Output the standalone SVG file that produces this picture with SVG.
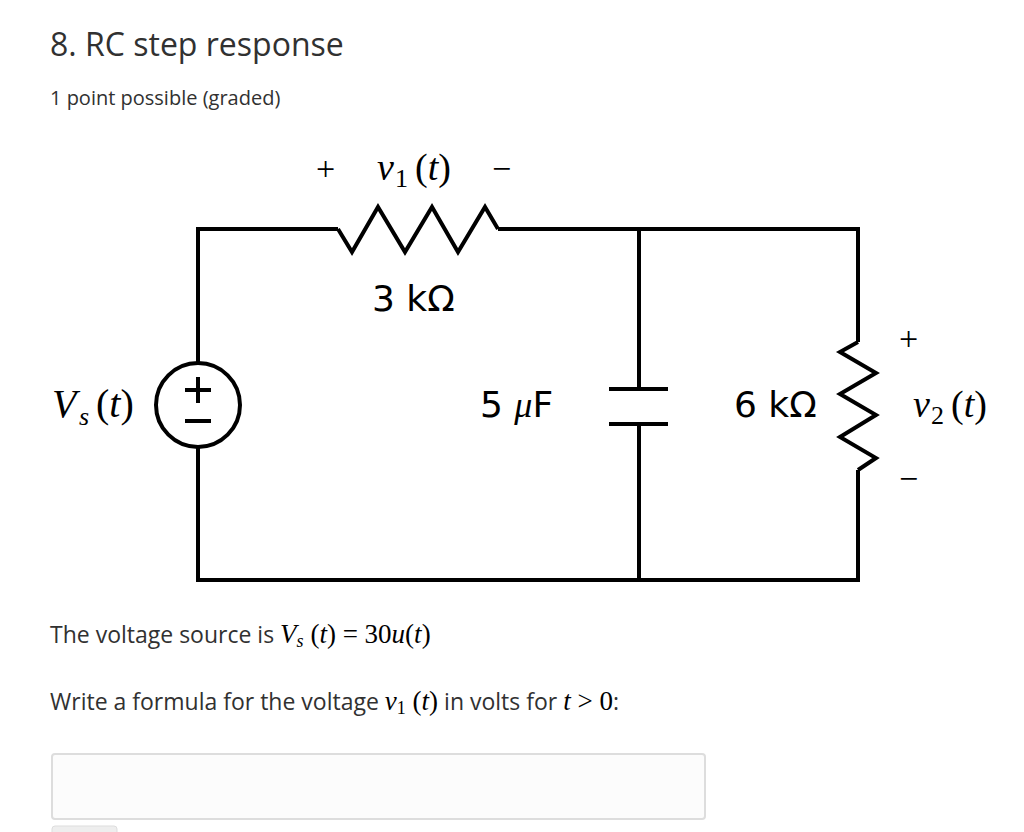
<svg xmlns="http://www.w3.org/2000/svg" width="1024" height="832" viewBox="0 0 1024 832">
<style>
.w{fill:none;stroke:#000;stroke-width:4;stroke-linejoin:miter}
.s{font-family:"Open Sans","Liberation Sans",sans-serif;fill:#313131}
.m{font-family:"Liberation Serif",serif;fill:#000}
.i{font-style:italic}
.d{font-family:"DejaVu Sans",sans-serif;fill:#000}
</style>
<rect width="1024" height="832" fill="#fff"/>
<text class="s" x="50" y="56" font-size="32">8. RC step response</text>
<text class="s" x="50" y="105" font-size="20" fill="#555">1 point possible (graded)</text>
<g id="connectors">
<path class="w" d="M198 363 V229 H338 M498 229 H858 V342 M858 470 V580 H198 V447 M639 229 V389 M639 424 V580"/>
</g>
<g id="R1">
<path class="w" d="M338 229 L352 252 L378 207 L405 252 L432 207 L458 252 L485 207 L498 229"/>
<text class="m" x="316" y="180" font-size="34">+</text>
<text class="m i" x="377" y="180" font-size="38">v</text><text class="m" x="395" y="187" font-size="26">1</text><text class="m" x="415" y="180" font-size="38">(<tspan class="i">t</tspan>)</text>
<text class="m" x="492" y="180" font-size="34">−</text>
<text class="d" x="372" y="311" font-size="36">3 kΩ</text>
</g>
<g id="Vs">
<circle cx="198" cy="405" r="42" fill="none" stroke="#000" stroke-width="4"/>
<path class="w" d="M185 390 H211 M198 377 V403 M185 421 H211"/>
<text class="m i" x="52" y="417" font-size="40">V</text><text class="m i" x="79" y="425" font-size="26">s</text><text class="m" x="96" y="417" font-size="40">(<tspan class="i">t</tspan>)</text>
</g>
<g id="C">
<path class="w" d="M609 389 H668 M609 424 H668"/>
<text class="d" x="480" y="417" font-size="36">5 <tspan font-family="Liberation Serif" font-style="italic">μ</tspan>F</text>
</g>
<g id="R2">
<path class="w" d="M858 342 L840 352 L876 373 L840 394 L876 415 L840 437 L876 458 L858 470"/>
<text class="d" x="734" y="417" font-size="36">6 kΩ</text>
<text class="m" x="899" y="350" font-size="34">+</text>
<text class="m i" x="913" y="417" font-size="38">v</text><text class="m" x="931" y="424" font-size="26">2</text><text class="m" x="951" y="417" font-size="38">(<tspan class="i">t</tspan>)</text>
<text class="m" x="899" y="490" font-size="34">−</text>
</g>
<text class="s" x="50" y="643" font-size="23">The voltage source is <tspan class="m i" font-size="27" fill="#000">V</tspan><tspan class="m i" font-size="18" dy="4" fill="#000">s</tspan><tspan class="m" font-size="27" dy="-4" fill="#000"> (<tspan class="i">t</tspan>) = 30<tspan class="i">u</tspan>(<tspan class="i">t</tspan>)</tspan></text>
<text class="s" x="50" y="710" font-size="23">Write a formula for the voltage <tspan class="m i" font-size="27" fill="#000">v</tspan><tspan class="m" font-size="18" dy="4" fill="#000">1</tspan><tspan class="m" font-size="27" dy="-4" fill="#000"> (<tspan class="i">t</tspan>)</tspan> in volts for <tspan class="m" font-size="27" fill="#000"><tspan class="i">t</tspan> &gt; 0</tspan>:</text>
<rect x="52" y="754" width="653" height="65" rx="3" fill="#fcfcfc" stroke="#ddd" stroke-width="2"/>
<rect x="52" y="826" width="65" height="14" rx="3" fill="#eee" stroke="#ddd" stroke-width="1"/>
</svg>
